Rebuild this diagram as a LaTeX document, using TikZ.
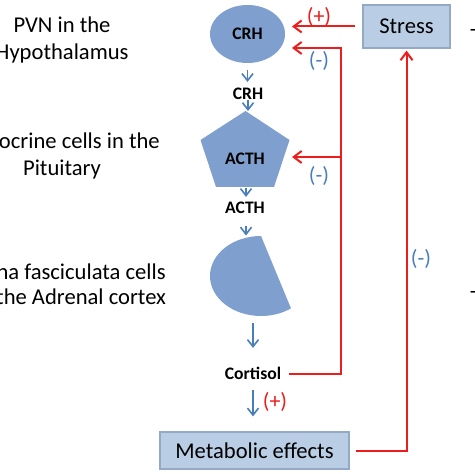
\documentclass[tikz,border=0pt]{standalone}
\usepackage{fontspec}
\setmainfont{Carlito}
\usetikzlibrary{arrows.meta,shapes.geometric}
\definecolor{shapeblue}{HTML}{7F9FCF}
\definecolor{boxblue}{HTML}{B9CDE5}
\definecolor{boxedge}{HTML}{94A9C6}
\definecolor{arrowblue}{HTML}{4A7EBB}
\definecolor{fbred}{HTML}{EE1C1C}
\tikzset{
  bigtext/.style={font=\fontsize{11.3}{13.5}\selectfont, align=center, inner sep=0pt},
  hormone/.style={font=\fontsize{8.8}{10}\selectfont\bfseries, inner sep=0pt, text height=5.7pt, text depth=0pt},
  downarr/.style={arrowblue, line width=0.8pt, -{Straight Barb[length=3.5pt,width=5.5pt]}},
  fbarr/.style={fbred, line width=1pt, -{Straight Barb[length=4pt,width=6pt]}},
  sign/.style={font=\fontsize{11}{13}\selectfont, inner sep=0pt},
  effectbox/.style={draw=boxedge, fill=boxblue, line width=0.6pt, font=\fontsize{11.3}{13.5}\selectfont, inner sep=0pt},
}

\begin{document}
\begin{tikzpicture}[x=0.5pt,y=-0.5pt]
\useasboundingbox (0,0) rectangle (474,474);
\clip (0,0) rectangle (474,474);
\fill[white] (0,0) rectangle (474,474);

% where it happens
\node[bigtext] (pvn) at (62,40) {PVN in the\\Hypothalamus};
\node[bigtext] (pituitary) at (62,156) {Endocrine cells in the\\Pituitary};
\node[bigtext, font=\fontsize{11.3}{12.5}\selectfont] (adrenal) at (70,284.5) {Zona fasciculata cells\\in the Adrenal cortex};

% the axis
\node[ellipse, fill=shapeblue, minimum width=37.5pt, minimum height=29pt, inner sep=0pt, hormone] (crh) at (247.5,34) {CRH};
\node[hormone] (crhout) at (248,94) {CRH};
\coordinate (ptop) at (245.5,111);
\fill[shapeblue] (ptop) -- (289.5,140) -- (274,187) -- (216,187) -- (200.5,140) -- cycle;
\coordinate (pbot) at (246,187);
\node[hormone] (acth) at (245,159) {ACTH};
\node[hormone] (acthout) at (245,208) {ACTH};
\fill[shapeblue] (261,236) arc[start angle=270, end angle=54, x radius=51, y radius=40] -- cycle;
\coordinate (stop) at (246,237.5);
\coordinate (sbot) at (253,316);
\node[hormone] (cortisol) at (253,374) {Cortisol};
\node[effectbox, minimum width=94.5pt, minimum height=18.5pt] (metab) at (254.5,450.5) {Metabolic effects};
\node[effectbox, minimum width=43.5pt, minimum height=21.5pt] (stress) at (406.5,26.5) {Stress};

\draw[downarr, shorten <=3.5pt, shorten >=3pt] (crh.south) -- (crh.south |- crhout.north);
\draw[downarr] (crhout.south) -- (crhout.south |- ptop);
\draw[downarr, shorten <=0.5pt, shorten >=2.5pt] (pbot) -- (pbot |- acthout.north);
\draw[downarr, shorten <=6pt, shorten >=1pt] (acthout.south -| stop) -- (stop);
\draw[downarr, shorten <=3.5pt, shorten >=10pt] (sbot) -- (sbot |- cortisol.north);
\draw[downarr, shorten <=5pt, shorten >=7.5pt] (cortisol.south) -- (cortisol.south |- metab.north);

% feedback
\coordinate (crhin1) at (292,26.5);
\coordinate (crhin2) at (292,48);
\coordinate (acthin) at (292,157);
\coordinate (loopcorner) at (341,48);
\coordinate (loopbranch) at (341,157);
\draw[fbarr, shorten <=3.5pt] (stress.west) -- (crhin1);
\draw[fbarr, shorten <=4pt] (cortisol.east) -| (loopcorner) -- (crhin2);
\draw[fbarr] (loopbranch) -- (acthin);
\draw[fbarr, shorten <=3pt, shorten >=1pt] (metab.east) -| (stress.south);

\node[sign, text=fbred] (plusstress) at (319,17) {(+)};
\node[sign, text=arrowblue] (minuscrh) at (319,61) {(-)};
\node[sign, text=arrowblue] (minusacth) at (319,176) {(-)};
\node[sign, text=arrowblue] (minusstress) at (421,259) {(-)};
\node[sign, text=fbred] (pluseffect) at (275,402) {(+)};

% cut off at the edge
\node[sign, anchor=west] (edgetop) at (469.5,33) {-};
\node[sign, anchor=west] (edgemid) at (469.5,295) {-};
\end{tikzpicture}
\end{document}
